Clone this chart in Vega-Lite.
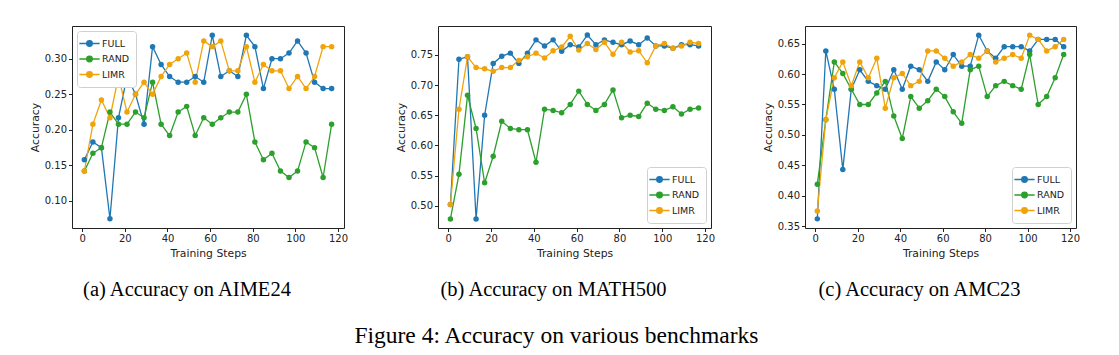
{
"$schema":"https://vega.github.io/schema/vega-lite/v6.json",
"background":"white",
"padding":{"left":28,"top":25,"right":10,"bottom":0},
"title":{"text":"Figure 4: Accuracy on various benchmarks","orient":"bottom","font":"Liberation Serif","fontSize":23.5,"fontWeight":"normal","color":"#000","offset":23,"anchor":"middle","dx":2},
"config":{
 "view":{"stroke":"#222","strokeWidth":1},
 "axis":{"grid":false,"domain":false,"tickColor":"#222","tickSize":3.5,"labelFont":"DejaVu Sans","labelFontSize":10,"labelColor":"#222","titleFont":"DejaVu Sans","titleFontSize":10.8,"titleFontWeight":"normal","titleColor":"#222","labelPadding":2},
 "legend":{"labelFont":"DejaVu Sans","labelFontSize":9.5,"labelColor":"#222","strokeColor":"#d0d0d0","fillColor":"white","padding":6,"cornerRadius":3,"title":null,"symbolStrokeWidth":1.5,"rowPadding":2.5,"labelOffset":6,"offset":5},
 "title":{"font":"Liberation Serif","fontSize":20.5,"fontWeight":"normal","color":"#000","orient":"bottom","offset":22}
},
"data":{"values":[
{"b":"A","m":"FULL","s":1,"a":0.158},{"b":"A","m":"FULL","s":5,"a":0.183},{"b":"A","m":"FULL","s":9,"a":0.175},{"b":"A","m":"FULL","s":13,"a":0.075},{"b":"A","m":"FULL","s":17,"a":0.217},{"b":"A","m":"FULL","s":21,"a":0.275},{"b":"A","m":"FULL","s":25,"a":0.25},{"b":"A","m":"FULL","s":29,"a":0.208},{"b":"A","m":"FULL","s":33,"a":0.317},{"b":"A","m":"FULL","s":37,"a":0.292},{"b":"A","m":"FULL","s":41,"a":0.275},{"b":"A","m":"FULL","s":45,"a":0.267},{"b":"A","m":"FULL","s":49,"a":0.267},{"b":"A","m":"FULL","s":53,"a":0.275},{"b":"A","m":"FULL","s":57,"a":0.267},{"b":"A","m":"FULL","s":61,"a":0.333},{"b":"A","m":"FULL","s":65,"a":0.275},{"b":"A","m":"FULL","s":69,"a":0.283},{"b":"A","m":"FULL","s":73,"a":0.275},{"b":"A","m":"FULL","s":77,"a":0.333},{"b":"A","m":"FULL","s":81,"a":0.317},{"b":"A","m":"FULL","s":85,"a":0.258},{"b":"A","m":"FULL","s":89,"a":0.3},{"b":"A","m":"FULL","s":93,"a":0.3},{"b":"A","m":"FULL","s":97,"a":0.308},{"b":"A","m":"FULL","s":101,"a":0.325},{"b":"A","m":"FULL","s":105,"a":0.308},{"b":"A","m":"FULL","s":109,"a":0.267},{"b":"A","m":"FULL","s":113,"a":0.258},{"b":"A","m":"FULL","s":117,"a":0.258},
{"b":"A","m":"RAND","s":1,"a":0.142},{"b":"A","m":"RAND","s":5,"a":0.167},{"b":"A","m":"RAND","s":9,"a":0.175},{"b":"A","m":"RAND","s":13,"a":0.225},{"b":"A","m":"RAND","s":17,"a":0.208},{"b":"A","m":"RAND","s":21,"a":0.208},{"b":"A","m":"RAND","s":25,"a":0.225},{"b":"A","m":"RAND","s":29,"a":0.217},{"b":"A","m":"RAND","s":33,"a":0.267},{"b":"A","m":"RAND","s":37,"a":0.208},{"b":"A","m":"RAND","s":41,"a":0.192},{"b":"A","m":"RAND","s":45,"a":0.225},{"b":"A","m":"RAND","s":49,"a":0.233},{"b":"A","m":"RAND","s":53,"a":0.192},{"b":"A","m":"RAND","s":57,"a":0.217},{"b":"A","m":"RAND","s":61,"a":0.208},{"b":"A","m":"RAND","s":65,"a":0.217},{"b":"A","m":"RAND","s":69,"a":0.225},{"b":"A","m":"RAND","s":73,"a":0.225},{"b":"A","m":"RAND","s":77,"a":0.25},{"b":"A","m":"RAND","s":81,"a":0.183},{"b":"A","m":"RAND","s":85,"a":0.158},{"b":"A","m":"RAND","s":89,"a":0.167},{"b":"A","m":"RAND","s":93,"a":0.142},{"b":"A","m":"RAND","s":97,"a":0.133},{"b":"A","m":"RAND","s":101,"a":0.142},{"b":"A","m":"RAND","s":105,"a":0.183},{"b":"A","m":"RAND","s":109,"a":0.175},{"b":"A","m":"RAND","s":113,"a":0.133},{"b":"A","m":"RAND","s":117,"a":0.208},
{"b":"A","m":"LIMR","s":1,"a":0.142},{"b":"A","m":"LIMR","s":5,"a":0.208},{"b":"A","m":"LIMR","s":9,"a":0.242},{"b":"A","m":"LIMR","s":13,"a":0.217},{"b":"A","m":"LIMR","s":17,"a":0.275},{"b":"A","m":"LIMR","s":21,"a":0.225},{"b":"A","m":"LIMR","s":25,"a":0.25},{"b":"A","m":"LIMR","s":29,"a":0.267},{"b":"A","m":"LIMR","s":33,"a":0.25},{"b":"A","m":"LIMR","s":37,"a":0.275},{"b":"A","m":"LIMR","s":41,"a":0.292},{"b":"A","m":"LIMR","s":45,"a":0.3},{"b":"A","m":"LIMR","s":49,"a":0.308},{"b":"A","m":"LIMR","s":53,"a":0.267},{"b":"A","m":"LIMR","s":57,"a":0.325},{"b":"A","m":"LIMR","s":61,"a":0.317},{"b":"A","m":"LIMR","s":65,"a":0.325},{"b":"A","m":"LIMR","s":69,"a":0.283},{"b":"A","m":"LIMR","s":73,"a":0.283},{"b":"A","m":"LIMR","s":77,"a":0.317},{"b":"A","m":"LIMR","s":81,"a":0.267},{"b":"A","m":"LIMR","s":85,"a":0.292},{"b":"A","m":"LIMR","s":89,"a":0.283},{"b":"A","m":"LIMR","s":93,"a":0.283},{"b":"A","m":"LIMR","s":97,"a":0.258},{"b":"A","m":"LIMR","s":101,"a":0.275},{"b":"A","m":"LIMR","s":105,"a":0.258},{"b":"A","m":"LIMR","s":109,"a":0.275},{"b":"A","m":"LIMR","s":113,"a":0.317},{"b":"A","m":"LIMR","s":117,"a":0.317},
{"b":"B","m":"FULL","s":1,"a":0.502},{"b":"B","m":"FULL","s":5,"a":0.743},{"b":"B","m":"FULL","s":9,"a":0.747},{"b":"B","m":"FULL","s":13,"a":0.478},{"b":"B","m":"FULL","s":17,"a":0.65},{"b":"B","m":"FULL","s":21,"a":0.736},{"b":"B","m":"FULL","s":25,"a":0.748},{"b":"B","m":"FULL","s":29,"a":0.753},{"b":"B","m":"FULL","s":33,"a":0.736},{"b":"B","m":"FULL","s":37,"a":0.753},{"b":"B","m":"FULL","s":41,"a":0.775},{"b":"B","m":"FULL","s":45,"a":0.765},{"b":"B","m":"FULL","s":49,"a":0.775},{"b":"B","m":"FULL","s":53,"a":0.756},{"b":"B","m":"FULL","s":57,"a":0.767},{"b":"B","m":"FULL","s":61,"a":0.763},{"b":"B","m":"FULL","s":65,"a":0.783},{"b":"B","m":"FULL","s":69,"a":0.767},{"b":"B","m":"FULL","s":73,"a":0.775},{"b":"B","m":"FULL","s":77,"a":0.771},{"b":"B","m":"FULL","s":81,"a":0.767},{"b":"B","m":"FULL","s":85,"a":0.773},{"b":"B","m":"FULL","s":89,"a":0.767},{"b":"B","m":"FULL","s":93,"a":0.778},{"b":"B","m":"FULL","s":97,"a":0.765},{"b":"B","m":"FULL","s":101,"a":0.765},{"b":"B","m":"FULL","s":105,"a":0.761},{"b":"B","m":"FULL","s":109,"a":0.767},{"b":"B","m":"FULL","s":113,"a":0.767},{"b":"B","m":"FULL","s":117,"a":0.765},
{"b":"B","m":"RAND","s":1,"a":0.478},{"b":"B","m":"RAND","s":5,"a":0.552},{"b":"B","m":"RAND","s":9,"a":0.683},{"b":"B","m":"RAND","s":13,"a":0.628},{"b":"B","m":"RAND","s":17,"a":0.538},{"b":"B","m":"RAND","s":21,"a":0.582},{"b":"B","m":"RAND","s":25,"a":0.64},{"b":"B","m":"RAND","s":29,"a":0.628},{"b":"B","m":"RAND","s":33,"a":0.626},{"b":"B","m":"RAND","s":37,"a":0.626},{"b":"B","m":"RAND","s":41,"a":0.572},{"b":"B","m":"RAND","s":45,"a":0.66},{"b":"B","m":"RAND","s":49,"a":0.658},{"b":"B","m":"RAND","s":53,"a":0.654},{"b":"B","m":"RAND","s":57,"a":0.668},{"b":"B","m":"RAND","s":61,"a":0.69},{"b":"B","m":"RAND","s":65,"a":0.668},{"b":"B","m":"RAND","s":69,"a":0.658},{"b":"B","m":"RAND","s":73,"a":0.668},{"b":"B","m":"RAND","s":77,"a":0.692},{"b":"B","m":"RAND","s":81,"a":0.646},{"b":"B","m":"RAND","s":85,"a":0.65},{"b":"B","m":"RAND","s":89,"a":0.648},{"b":"B","m":"RAND","s":93,"a":0.67},{"b":"B","m":"RAND","s":97,"a":0.66},{"b":"B","m":"RAND","s":101,"a":0.658},{"b":"B","m":"RAND","s":105,"a":0.664},{"b":"B","m":"RAND","s":109,"a":0.652},{"b":"B","m":"RAND","s":113,"a":0.66},{"b":"B","m":"RAND","s":117,"a":0.662},
{"b":"B","m":"LIMR","s":1,"a":0.502},{"b":"B","m":"LIMR","s":5,"a":0.66},{"b":"B","m":"LIMR","s":9,"a":0.747},{"b":"B","m":"LIMR","s":13,"a":0.729},{"b":"B","m":"LIMR","s":17,"a":0.727},{"b":"B","m":"LIMR","s":21,"a":0.723},{"b":"B","m":"LIMR","s":25,"a":0.729},{"b":"B","m":"LIMR","s":29,"a":0.729},{"b":"B","m":"LIMR","s":33,"a":0.741},{"b":"B","m":"LIMR","s":37,"a":0.747},{"b":"B","m":"LIMR","s":41,"a":0.753},{"b":"B","m":"LIMR","s":45,"a":0.745},{"b":"B","m":"LIMR","s":49,"a":0.757},{"b":"B","m":"LIMR","s":53,"a":0.763},{"b":"B","m":"LIMR","s":57,"a":0.781},{"b":"B","m":"LIMR","s":61,"a":0.758},{"b":"B","m":"LIMR","s":65,"a":0.769},{"b":"B","m":"LIMR","s":69,"a":0.759},{"b":"B","m":"LIMR","s":73,"a":0.771},{"b":"B","m":"LIMR","s":77,"a":0.751},{"b":"B","m":"LIMR","s":81,"a":0.771},{"b":"B","m":"LIMR","s":85,"a":0.755},{"b":"B","m":"LIMR","s":89,"a":0.757},{"b":"B","m":"LIMR","s":93,"a":0.737},{"b":"B","m":"LIMR","s":97,"a":0.765},{"b":"B","m":"LIMR","s":101,"a":0.769},{"b":"B","m":"LIMR","s":105,"a":0.761},{"b":"B","m":"LIMR","s":109,"a":0.765},{"b":"B","m":"LIMR","s":113,"a":0.771},{"b":"B","m":"LIMR","s":117,"a":0.769},
{"b":"C","m":"FULL","s":1,"a":0.362},{"b":"C","m":"FULL","s":5,"a":0.638},{"b":"C","m":"FULL","s":9,"a":0.575},{"b":"C","m":"FULL","s":13,"a":0.443},{"b":"C","m":"FULL","s":17,"a":0.575},{"b":"C","m":"FULL","s":21,"a":0.607},{"b":"C","m":"FULL","s":25,"a":0.588},{"b":"C","m":"FULL","s":29,"a":0.581},{"b":"C","m":"FULL","s":33,"a":0.575},{"b":"C","m":"FULL","s":37,"a":0.607},{"b":"C","m":"FULL","s":41,"a":0.575},{"b":"C","m":"FULL","s":45,"a":0.613},{"b":"C","m":"FULL","s":49,"a":0.607},{"b":"C","m":"FULL","s":53,"a":0.588},{"b":"C","m":"FULL","s":57,"a":0.62},{"b":"C","m":"FULL","s":61,"a":0.607},{"b":"C","m":"FULL","s":65,"a":0.632},{"b":"C","m":"FULL","s":69,"a":0.613},{"b":"C","m":"FULL","s":73,"a":0.613},{"b":"C","m":"FULL","s":77,"a":0.664},{"b":"C","m":"FULL","s":81,"a":0.638},{"b":"C","m":"FULL","s":85,"a":0.626},{"b":"C","m":"FULL","s":89,"a":0.645},{"b":"C","m":"FULL","s":93,"a":0.645},{"b":"C","m":"FULL","s":97,"a":0.645},{"b":"C","m":"FULL","s":101,"a":0.638},{"b":"C","m":"FULL","s":105,"a":0.657},{"b":"C","m":"FULL","s":109,"a":0.657},{"b":"C","m":"FULL","s":113,"a":0.657},{"b":"C","m":"FULL","s":117,"a":0.645},
{"b":"C","m":"RAND","s":1,"a":0.419},{"b":"C","m":"RAND","s":5,"a":0.525},{"b":"C","m":"RAND","s":9,"a":0.62},{"b":"C","m":"RAND","s":13,"a":0.601},{"b":"C","m":"RAND","s":17,"a":0.575},{"b":"C","m":"RAND","s":21,"a":0.55},{"b":"C","m":"RAND","s":25,"a":0.55},{"b":"C","m":"RAND","s":29,"a":0.569},{"b":"C","m":"RAND","s":33,"a":0.588},{"b":"C","m":"RAND","s":37,"a":0.531},{"b":"C","m":"RAND","s":41,"a":0.494},{"b":"C","m":"RAND","s":45,"a":0.563},{"b":"C","m":"RAND","s":49,"a":0.544},{"b":"C","m":"RAND","s":53,"a":0.556},{"b":"C","m":"RAND","s":57,"a":0.575},{"b":"C","m":"RAND","s":61,"a":0.563},{"b":"C","m":"RAND","s":65,"a":0.538},{"b":"C","m":"RAND","s":69,"a":0.519},{"b":"C","m":"RAND","s":73,"a":0.607},{"b":"C","m":"RAND","s":77,"a":0.613},{"b":"C","m":"RAND","s":81,"a":0.563},{"b":"C","m":"RAND","s":85,"a":0.581},{"b":"C","m":"RAND","s":89,"a":0.588},{"b":"C","m":"RAND","s":93,"a":0.581},{"b":"C","m":"RAND","s":97,"a":0.575},{"b":"C","m":"RAND","s":101,"a":0.632},{"b":"C","m":"RAND","s":105,"a":0.55},{"b":"C","m":"RAND","s":109,"a":0.563},{"b":"C","m":"RAND","s":113,"a":0.594},{"b":"C","m":"RAND","s":117,"a":0.632},
{"b":"C","m":"LIMR","s":1,"a":0.375},{"b":"C","m":"LIMR","s":5,"a":0.525},{"b":"C","m":"LIMR","s":9,"a":0.594},{"b":"C","m":"LIMR","s":13,"a":0.62},{"b":"C","m":"LIMR","s":17,"a":0.581},{"b":"C","m":"LIMR","s":21,"a":0.62},{"b":"C","m":"LIMR","s":25,"a":0.594},{"b":"C","m":"LIMR","s":29,"a":0.626},{"b":"C","m":"LIMR","s":33,"a":0.544},{"b":"C","m":"LIMR","s":37,"a":0.594},{"b":"C","m":"LIMR","s":41,"a":0.601},{"b":"C","m":"LIMR","s":45,"a":0.581},{"b":"C","m":"LIMR","s":49,"a":0.588},{"b":"C","m":"LIMR","s":53,"a":0.638},{"b":"C","m":"LIMR","s":57,"a":0.638},{"b":"C","m":"LIMR","s":61,"a":0.626},{"b":"C","m":"LIMR","s":65,"a":0.613},{"b":"C","m":"LIMR","s":69,"a":0.62},{"b":"C","m":"LIMR","s":73,"a":0.632},{"b":"C","m":"LIMR","s":77,"a":0.626},{"b":"C","m":"LIMR","s":81,"a":0.638},{"b":"C","m":"LIMR","s":85,"a":0.62},{"b":"C","m":"LIMR","s":89,"a":0.626},{"b":"C","m":"LIMR","s":93,"a":0.632},{"b":"C","m":"LIMR","s":97,"a":0.626},{"b":"C","m":"LIMR","s":101,"a":0.664},{"b":"C","m":"LIMR","s":105,"a":0.657},{"b":"C","m":"LIMR","s":109,"a":0.638},{"b":"C","m":"LIMR","s":113,"a":0.645},{"b":"C","m":"LIMR","s":117,"a":0.657}
]},
"hconcat":[
{"title":{"text":"(a) Accuracy on AIME24","dx":-21},"width":272,"height":202,
 "transform":[{"filter":"datum.b==='A'"}],
 "encoding":{
  "x":{"field":"s","type":"quantitative","title":"Training Steps","scale":{"domain":[-4.8,122.8],"nice":false,"zero":false},"axis":{"values":[0,20,40,60,80,100,120]}},
  "y":{"field":"a","type":"quantitative","title":"Accuracy","scale":{"domain":[0.062,0.346],"nice":false,"zero":false},"axis":{"values":[0.1,0.15,0.2,0.25,0.3],"format":".2f"}},
  "color":{"field":"m","type":"nominal","sort":["FULL","RAND","LIMR"],"scale":{"domain":["FULL","RAND","LIMR"],"range":["#1f77b4","#2ca02c","#f0a30a"]},"legend":{"orient":"top-left","symbolType":"M-1.85,0H1.85M-0.5,0A0.5,0.5 0 1,1 0.5,0A0.5,0.5 0 1,1 -0.5,0Z","symbolSize":120}}
 },
 "layer":[{"mark":{"type":"line","strokeWidth":1.3}},{"mark":{"type":"circle","size":30,"opacity":1}}]
},
{"title":{"text":"(b) Accuracy on MATH500","dx":-21},"width":273,"height":202,
 "transform":[{"filter":"datum.b==='B'"}],
 "encoding":{
  "x":{"field":"s","type":"quantitative","title":"Training Steps","scale":{"domain":[-4.8,122.8],"nice":false,"zero":false},"axis":{"values":[0,20,40,60,80,100,120]}},
  "y":{"field":"a","type":"quantitative","title":"Accuracy","scale":{"domain":[0.463,0.798],"nice":false,"zero":false},"axis":{"values":[0.5,0.55,0.6,0.65,0.7,0.75],"format":".2f"}},
  "color":{"field":"m","type":"nominal","sort":["FULL","RAND","LIMR"],"scale":{"domain":["FULL","RAND","LIMR"],"range":["#1f77b4","#2ca02c","#f0a30a"]},"legend":{"orient":"bottom-right","symbolType":"M-1.85,0H1.85M-0.5,0A0.5,0.5 0 1,1 0.5,0A0.5,0.5 0 1,1 -0.5,0Z","symbolSize":120}}
 },
 "layer":[{"mark":{"type":"line","strokeWidth":1.3}},{"mark":{"type":"circle","size":30,"opacity":1}}]
},
{"title":{"text":"(c) Accuracy on AMC23","dx":-21},"width":271,"height":202,
 "transform":[{"filter":"datum.b==='C'"}],
 "encoding":{
  "x":{"field":"s","type":"quantitative","title":"Training Steps","scale":{"domain":[-4.8,122.8],"nice":false,"zero":false},"axis":{"values":[0,20,40,60,80,100,120]}},
  "y":{"field":"a","type":"quantitative","title":"Accuracy","scale":{"domain":[0.347,0.679],"nice":false,"zero":false},"axis":{"values":[0.35,0.4,0.45,0.5,0.55,0.6,0.65],"format":".2f"}},
  "color":{"field":"m","type":"nominal","sort":["FULL","RAND","LIMR"],"scale":{"domain":["FULL","RAND","LIMR"],"range":["#1f77b4","#2ca02c","#f0a30a"]},"legend":{"orient":"bottom-right","symbolType":"M-1.85,0H1.85M-0.5,0A0.5,0.5 0 1,1 0.5,0A0.5,0.5 0 1,1 -0.5,0Z","symbolSize":120}}
 },
 "layer":[{"mark":{"type":"line","strokeWidth":1.3}},{"mark":{"type":"circle","size":30,"opacity":1}}]
}
],
"spacing":94,
"bounds":"flush",
"resolve":{"scale":{"color":"independent"},"legend":{"color":"independent"}}
}
